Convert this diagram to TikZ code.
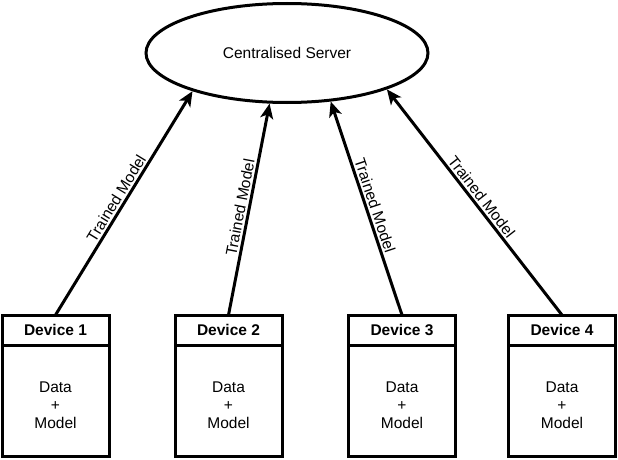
\documentclass[tikz,border=0pt]{standalone}
\usepackage{fontspec}
\setmainfont{Liberation Sans}
\usetikzlibrary{positioning, arrows.meta, shapes.geometric}
\tikzset{%
	>={Stealth[length = 15pt, width = 13pt, inset = 4pt]},
	link/.style = {line width = 3pt},
	srv/.style = {name = #1, ellipse, draw, line width = 3pt, minimum width = 282pt, minimum height = 99pt},
	dev/.style = {name = #1, rectangle, draw, line width = 3pt, outer sep = 0pt, minimum width = 107pt, minimum height = 30pt, inner sep = 0pt, font = \fontsize{15.5}{18}\selectfont\bfseries},
	mem/.style = {name = #1, rectangle, draw, line width = 3pt, outer sep = 0pt, minimum width = 107pt, minimum height = 111pt, anchor = north, label = {[align = center, yshift = -5pt]center:Data\\+\\Model}},
	lbl/.style = {sloped, above, inner sep = 2pt}
}
\begin{document}
\begin{tikzpicture}[x = 1pt, y = 1pt, font = \fontsize{15.5}{18}\selectfont]
			\useasboundingbox (0,0) rectangle (618,459);
			\node [srv = {S}] at (287,406) {Centralised Server};
			\node [dev = {D1}] at (55.5,129) {Device 1};
			\node [dev = {D2}] at (228.5,129) {Device 2};
			\node [dev = {D3}] at (402,129) {Device 3};
			\node [dev = {D4}] at (562,129) {Device 4};
			\node [mem = {M1}] at (D1.south) {};
			\node [mem = {M2}] at (D2.south) {};
			\node [mem = {M3}] at (D3.south) {};
			\node [mem = {M4}] at (D4.south) {};
			\path [->, link] (D1.north) edge node [lbl] {Trained Model} (S.202);
			\path [->, link] (D2.north) edge node [lbl] {Trained Model} (S.251);
			\path [->, link] (D3.north) edge node [lbl] {Trained Model} (S.312);
			\path [->, link] (D4.north) edge node [lbl] {Trained Model} (S.340);
			\end{tikzpicture}
\end{document}
